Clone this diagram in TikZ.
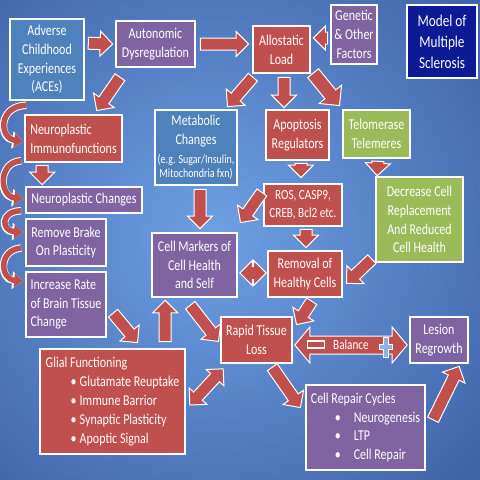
\documentclass[tikz,border=0pt]{standalone}
\usepackage{fontspec}
\setmainfont{Carlito}[FakeStretch=0.8]
\usetikzlibrary{shapes.arrows,calc,arrows.meta}
\definecolor{ared}{RGB}{192,80,77}
\definecolor{apurple}{RGB}{128,100,162}
\definecolor{ablue}{RGB}{79,129,189}
\definecolor{agreen}{RGB}{155,187,89}
\definecolor{anavy}{RGB}{12,26,150}
\definecolor{bgin}{RGB}{110,160,228}
\definecolor{bgout}{RGB}{15,35,105}
\definecolor{plusblue}{RGB}{140,180,225}
\newcommand\fsz[2]{\fontsize{#1}{#2}\selectfont}
\tikzset{
  box/.style={draw=white, line width=1.6pt, text=white, align=center, inner sep=2pt, font=\fsz{15}{18.8}},
  barrow/.style={single arrow, draw=white, fill=ared, line width=1pt, inner xsep=0pt, inner ysep=5.5pt, minimum width=0pt, single arrow head extend=6.5pt, single arrow tip angle=90},
  dbl/.style={double arrow, double arrow head extend=6pt, double arrow tip angle=90},
  curvarr/.style={line width=5.5pt, draw=ared, -{Triangle[width=14pt,length=9pt]}, preaction={draw=white, line width=7.5pt, -{Triangle[width=17pt,length=11pt]}}},
}
\newcommand\blockarr[3][]{%
  \path (#2) coordinate (bas) (#3) coordinate (bae);
  \path let \p1=($(bae)-(bas)$), \n1={veclen(\x1,\y1)} in
    (bas) -- (bae) node[barrow, #1, pos=0, anchor=tail, sloped, allow upside down, minimum height=\n1]{};}
\newcommand\dblarr[3][]{%
  \path (#2) coordinate (bas) (#3) coordinate (bae);
  \path let \p1=($(bae)-(bas)$), \n1={veclen(\x1,\y1)} in
    (bas) -- (bae) node[barrow, dbl, #1, midway, sloped, allow upside down, minimum height=\n1]{};}
\begin{document}
\begin{tikzpicture}[x=1pt,y=-1pt]
\useasboundingbox (0,0) rectangle (480,480);
\begin{scope}
\clip (0,0) rectangle (480,480);
\fill[bgout] (0,0) rectangle (480,480);
\shade[inner color=bgin, outer color=bgout] (215,235) circle (720);
\end{scope}

% boxes
\node[box, fill=ablue, minimum width=74pt, minimum height=81pt] (aces) at (47,59.5) {Adverse\\Childhood\\Experiences\\(ACEs)};
\node[box, fill=apurple, minimum width=79pt, minimum height=46pt] (auto) at (155.5,44) {Autonomic\\Dysregulation};
\node[box, fill=ared, minimum width=57pt, minimum height=47pt] (allo) at (281.5,49.5) {Allostatic\\Load};
\node[box, fill=apurple, minimum width=46pt, minimum height=59pt] (genetic) at (354,34.5) {Genetic\\\& Other\\Factors};
\node[box, fill=anavy, line width=2.2pt, minimum width=70pt, minimum height=73pt, font=\fsz{16.5}{21}] (model) at (442,41.5) {Model of\\Multiple\\Sclerosis};
\node[box, fill=ared, minimum width=97pt, minimum height=47pt, align=left] (neuroimm) at (73.5,138.5) {Neuroplastic\\Immunofunctions};
\node[box, fill=ablue, minimum width=82pt, minimum height=75pt] (metab) at (196,147.5) {Metabolic\\Changes\\\fsz{12.5}{14.5}(e.g. Sugar/Insulin,\\[-4.5pt]\fsz{12.5}{14.5}Mitochondria fxn)};
\node[box, fill=ared, minimum width=63pt, minimum height=50pt] (apop) at (297.5,135) {Apoptosis\\Regulators};
\node[box, fill=agreen, minimum width=67pt, minimum height=48pt] (telo) at (376.5,134) {Telomerase\\Telemeres};
\node[box, fill=apurple, minimum width=116pt, minimum height=26pt] (nchanges) at (84,200) {Neuroplastic Changes};
\node[box, fill=apurple, minimum width=80pt, minimum height=47pt] (brake) at (66,242.5) {Remove Brake\\On Plasticity};
\node[box, fill=apurple, minimum width=80pt, minimum height=65pt, align=left] (incr) at (66,304.5) {Increase Rate\\of Brain Tissue\\Change};
\node[box, fill=ared, minimum width=78pt, minimum height=42pt, font=\fsz{14}{18}] (ros) at (303,205) {ROS, CASP9,\\CREB, Bcl2 etc.};
\node[box, fill=agreen, minimum width=87pt, minimum height=85pt] (decr) at (419.5,219.5) {Decrease Cell\\Replacement\\And Reduced\\Cell Health};
\node[box, fill=apurple, minimum width=85pt, minimum height=64pt] (cellm) at (194.5,265) {Cell Markers of\\Cell Health\\and Self};
\node[box, fill=ared, minimum width=74pt, minimum height=46pt] (removal) at (305,274) {Removal of\\Healthy Cells};
\node[box, fill=ared, minimum width=71pt, minimum height=46pt] (rapid) at (256.5,340) {Rapid Tissue\\Loss};
\node[box, fill=apurple, minimum width=58pt, minimum height=46pt] (lesion) at (439,340) {Lesion\\Regrowth};
\node[box, fill=ared, minimum width=145pt, minimum height=105pt, align=left] (glial) at (112.5,401.5) {Glial Functioning\\
\hspace*{25pt}\textbullet\hspace{3pt}Glutamate Reuptake\\
\hspace*{25pt}\textbullet\hspace{3pt}Immune Barrior\\
\hspace*{25pt}\textbullet\hspace{3pt}Synaptic Plasticity\\
\hspace*{25pt}\textbullet\hspace{3pt}Apoptic Signal};
\node[box, fill=apurple, minimum width=119pt, minimum height=85pt, align=left] (repair) at (365.5,427.5) {Cell Repair Cycles\\
\hspace*{24pt}\textbullet\hspace{13pt}Neurogenesis\\
\hspace*{24pt}\textbullet\hspace{13pt}LTP\\
\hspace*{24pt}\textbullet\hspace{13pt}Cell Repair};

% curved arrows on the left
\draw[curvarr] ($(aces.south west)+(17,4.5)$) .. controls (-2,106) and (-1,138) .. ($(neuroimm.west)+(-1,3)$);
\draw[curvarr] ($(neuroimm.south west)+(-3,-2)$) .. controls (-2,162) and (-1,196) .. ($(nchanges.west)+(-2,-1)$);
\draw[curvarr] ($(nchanges.south west)+(-4,-3)$) .. controls (0,211) and (1,231) .. ($(brake.north west)+(-2,14)$);
\draw[curvarr] ($(brake.west)+(-4,5.5)$) .. controls (-2,250) and (0,279) .. ($(incr.north west)+(-2,10)$);

% straight block arrows
\blockarr{$(aces.north east)+(3,25)$}{$(auto.west)+(-3,0)$}
\blockarr{$(auto.east)+(4,0)$}{$(allo.west)+(-4,-5.5)$}
\blockarr[single arrow head extend=6pt]{$(genetic.west)+(-2,3.5)$}{$(allo.east)+(3,-11.5)$}
\blockarr{$(auto.south west)+(5,9)$}{$(neuroimm.north)+(23.5,-4)$}
\blockarr{$(allo.south west)+(1,3)$}{$(metab.north east)+(-10,-3)$}
\blockarr{$(allo.south)+(2.5,3)$}{$(apop.north)+(-13.5,-2)$}
\blockarr[inner ysep=6.5pt, single arrow head extend=7.5pt]{$(allo.south east)+(2,-1)$}{$(telo.north west)+(-3,-4)$}
\blockarr{$(apop.south)+(3.5,2)$}{$(ros.north)+(-2,-6)$}
\blockarr{$(telo.south)+(1.5,2)$}{$(decr.north west)+(2,-1)$}
\blockarr{$(metab.south)+(4,3)$}{$(cellm.north)+(5.5,-4)$}
\blockarr{$(ros.west)+(-1,-13)$}{$(cellm.north east)+(3,-10)$}
\blockarr{$(ros.south)+(3,2)$}{$(removal.north)+(1,-3)$}
\dblarr[inner ysep=6pt, double arrow head extend=6pt]{$(cellm.east)+(2,8)$}{$(removal.west)+(-1,-1)$}
\blockarr{$(decr.south west)+(-3,-4)$}{$(removal.east)+(4,9)$}
\blockarr{$(removal.south)+(7,3)$}{$(rapid.north east)+(4,8)$}
\blockarr{$(cellm.south)+(-4.5,7)$}{$(rapid.west)+(-2,1)$}
\blockarr{$(glial.north west)+(126,-6)$}{$(cellm.south west)+(14,3)$}
\blockarr{$(incr.south east)+(6,-25)$}{$(glial.north west)+(98,-6)$}
\dblarr{$(glial.east)+(4,3.5)$}{$(rapid.south west)+(3,5)$}
\blockarr{$(rapid.south)+(15.5,3)$}{$(repair.north west)+(-5,23)$}
\blockarr{$(repair.north east)+(7,36)$}{$(lesion.south)+(20,3)$}
\blockarr{$(neuroimm.south west)+(18,2)$}{$(nchanges.north west)+(17,-2)$}

% balance arrow
\dblarr[inner ysep=8.5pt, double arrow head extend=9pt, double arrow tip angle=100]{$(rapid.east)+(2,5)$}{$(lesion.west)+(-2,5)$}
\node[draw=white, line width=1.2pt, fill=ared, minimum width=17pt, minimum height=7pt, inner sep=0pt] (minus) at (316,344.5) {};
\node[text=white, font=\fsz{14}{16}, inner sep=0pt] (bal) at (351,345) {Balance};
\filldraw[shift={(386,347)}, fill=plusblue, draw=white, line width=0.8pt]
  (-6.5,-2.3) -- (-2.3,-2.3) -- (-2.3,-10) -- (2.3,-10) -- (2.3,-2.3) -- (6.5,-2.3) -- (6.5,2.3) -- (2.3,2.3) -- (2.3,10) -- (-2.3,10) -- (-2.3,2.3) -- (-6.5,2.3) -- cycle;
\end{tikzpicture}
\end{document}
